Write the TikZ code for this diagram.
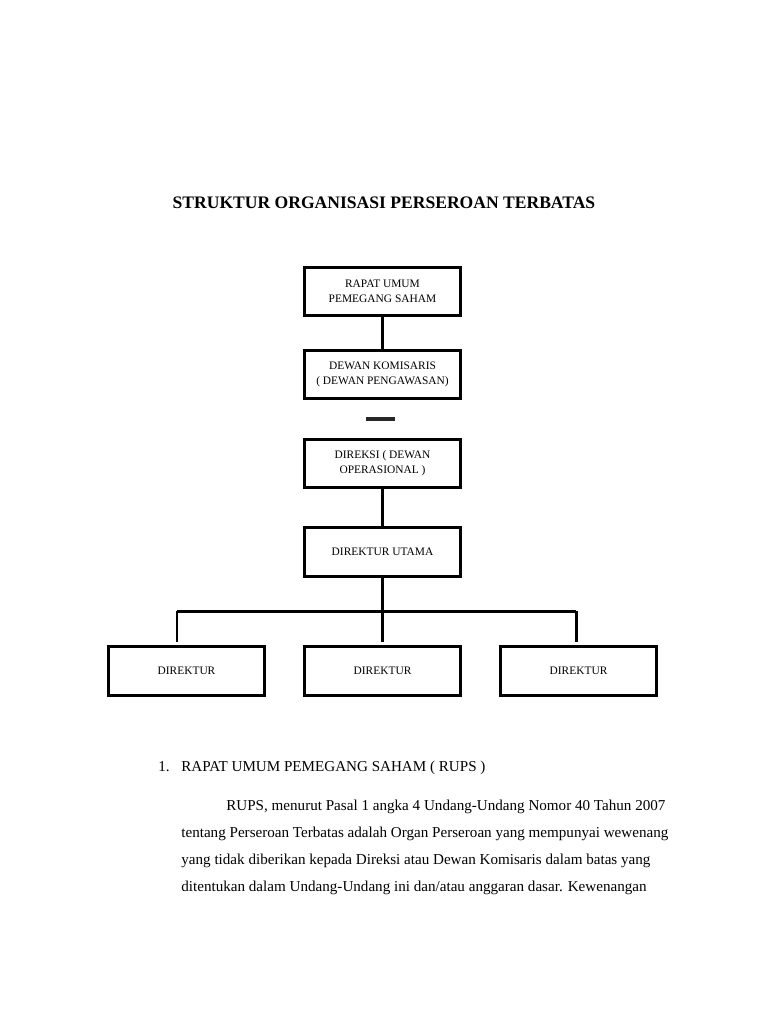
\documentclass[tikz,border=0pt]{standalone}
\usepackage{fontspec}
\setmainfont{Liberation Serif}
\usetikzlibrary{arrows.meta}

\begin{document}
\begin{tikzpicture}[x=0.02cm, y=-0.02cm,
    box/.style={draw, line width=1.6pt, minimum width=3.13cm, minimum height=0.97cm,
        align=center, inner sep=0pt, font=\fontsize{6.5}{8.5}\selectfont},
    link/.style={line width=1.7pt},
    body/.style={anchor=base west, inner sep=0pt, font=\fontsize{8.6}{11}\selectfont}]
    \fill [white] (0, 0) rectangle (768, 1024);
    \useasboundingbox (0, 0) rectangle (768, 1024);
    \node [anchor=base, inner sep=0pt, font=\fontsize{10}{12}\selectfont\bfseries] (title) at (384, 208) {STRUKTUR ORGANISASI PERSEROAN TERBATAS};
    \node [box] (rups) at (382.5, 291.5) {RAPAT UMUM\\PEMEGANG SAHAM};
    \node [box] (komisaris) at (382.5, 374.5) {DEWAN KOMISARIS\\( DEWAN PENGAWASAN)};
    \node [box] (direksi) at (382.5, 463.5) {DIREKSI ( DEWAN\\OPERASIONAL )};
    \node [box] (utama) at (382.5, 552) {DIREKTUR UTAMA};
    \node [box] (dirL) at (186.5, 671) {DIREKTUR};
    \node [box] (dirM) at (382.5, 671) {DIREKTUR};
    \node [box] (dirR) at (578.5, 671) {DIREKTUR};
    \draw [link] (rups) -- (komisaris);
    \coordinate (dashL) at (366, 419);
    \coordinate (dashR) at (395, 419);
    \draw [link, line width=2.2pt, black!85] (dashL) -- (dashR);
    \draw [link] (direksi) -- (utama);
    \coordinate (forkL) at (177, 611);
    \coordinate (forkR) at (576, 611);
    \draw [link] (forkL) -- (forkR);
    \draw [link, shorten >=2pt] (utama) -- (dirM);
    \draw [link, shorten >=2pt] (forkL) -- (forkL |- dirL.north);
    \draw [link, shorten >=2pt] (forkR) -- (forkR |- dirR.north);
    \node [body] (num) at (158, 771) {1.};
    \node [body] (heading) at (181, 771) {RAPAT UMUM PEMEGANG SAHAM ( RUPS )};
    \node [body] (line1) at (226, 810) {RUPS, menurut Pasal 1 angka 4 Undang-Undang Nomor 40 Tahun 2007};
    \node [body] (line2) at (181, 837) {tentang Perseroan Terbatas adalah Organ Perseroan yang mempunyai wewenang};
    \node [body] (line3) at (181, 864) {yang tidak diberikan kepada Direksi atau Dewan Komisaris dalam batas yang};
    \node [body] (line4) at (181, 891) {ditentukan dalam Undang-Undang ini dan/atau anggaran dasar. Kewenangan};
\end{tikzpicture}
\end{document}
